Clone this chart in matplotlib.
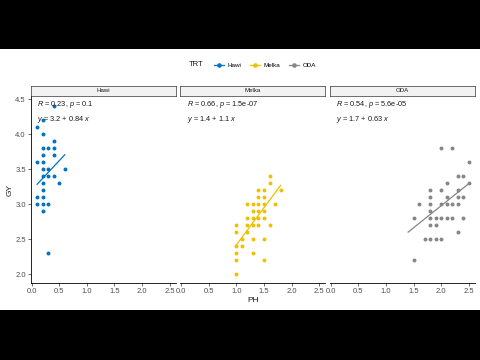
import numpy as np
import matplotlib
matplotlib.use('Agg')
from matplotlib import pyplot as plt
from matplotlib.lines import Line2D
from matplotlib.patches import Rectangle

plt.rcParams['font.family'] = ['Liberation Sans', 'DejaVu Sans']
plt.rcParams['mathtext.fontset'] = 'custom'
plt.rcParams['mathtext.rm'] = 'Liberation Sans'
plt.rcParams['mathtext.it'] = 'Liberation Sans:italic'

# data
groups = ['Hawi', 'Melka', 'ODA']
colors = ['#0073C2', '#EFC000', '#868686']

hawi_ph = [0.4, 0.2, 0.1, 0.2, 0.4, 0.2, 0.3, 0.4, 0.2, 0.4, 0.1, 0.2, 0.2, 0.3,
           0.6, 0.2, 0.3, 0.4, 0.2, 0.5, 0.2, 0.1, 0.2, 0.1, 0.2, 0.3, 0.2, 0.3]
hawi_gy = [4.4, 4.2, 4.1, 4.0, 3.9, 3.8, 3.8, 3.8, 3.7, 3.7, 3.6, 3.6, 3.5, 3.5,
           3.5, 3.4, 3.4, 3.4, 3.3, 3.3, 3.2, 3.1, 3.1, 3.0, 3.0, 3.0, 2.9, 2.3]

melka_ph = [1.6, 1.6, 1.4, 1.5, 1.8, 1.4, 1.5, 1.2, 1.3, 1.4, 1.5, 1.7, 1.3, 1.4,
            1.5, 1.2, 1.3, 1.4, 1.5, 1.0, 1.2, 1.3, 1.4, 1.6, 1.0, 1.2, 1.1, 1.3,
            1.5, 1.0, 1.1, 1.0, 1.3, 1.0, 1.5, 1.0]
melka_gy = [3.4, 3.3, 3.2, 3.2, 3.2, 3.1, 3.1, 3.0, 3.0, 3.0, 3.0, 3.0, 2.9, 2.9,
            2.9, 2.8, 2.8, 2.8, 2.8, 2.7, 2.7, 2.7, 2.7, 2.7, 2.6, 2.6, 2.5, 2.5,
            2.5, 2.4, 2.4, 2.3, 2.3, 2.2, 2.2, 2.0]

oda_ph = [2.0, 2.2, 2.5, 2.3, 2.4, 2.1, 2.5, 1.8, 2.0, 2.3, 1.8, 2.1, 2.3, 2.4,
          1.6, 1.8, 2.0, 2.1, 2.2, 2.3, 1.8, 1.5, 1.8, 1.9, 2.0, 2.1, 2.2, 2.4,
          1.8, 1.9, 2.3, 1.7, 1.8, 1.9, 2.0, 1.5]
oda_gy = [3.8, 3.8, 3.6, 3.4, 3.4, 3.3, 3.3, 3.2, 3.2, 3.2, 3.1, 3.1, 3.1, 3.1,
          3.0, 3.0, 3.0, 3.0, 3.0, 3.0, 2.9, 2.8, 2.8, 2.8, 2.8, 2.8, 2.8, 2.8,
          2.7, 2.7, 2.6, 2.5, 2.5, 2.5, 2.5, 2.2]

# fitted lines as seen in the picture
fit_intercept = [3.2, 1.36, 1.72]
fit_slope = [0.84, 1.06, 0.63]
fit_from = [0.1, 1.0, 1.4]
fit_to = [0.6, 1.8, 2.5]

stats_text = ['$R$ = 0.23, $p$ = 0.1',
              '$R$ = 0.66, $p$ = 1.5e-07',
              '$R$ = 0.54, $p$ = 5.6e-05']
eq_text = ['$y$ = 3.2 + 0.84 $x$',
           '$y$ = 1.4 + 1.1 $x$',
           '$y$ = 1.7 + 0.63 $x$']

x_ticks = [0.0, 0.5, 1.0, 1.5, 2.0, 2.5]
x_tick_labels = ['0.0', '0.5', '1.0', '1.5', '2.0', '2.5']
y_ticks = [2.0, 2.5, 3.0, 3.5, 4.0, 4.5]
y_tick_labels = ['2.0', '2.5', '3.0', '3.5', '4.0', '4.5']

W, H = 480, 360


def box(x0, y0, x1, y1):
    return [x0 / W, 1 - y1 / H, (x1 - x0) / W, (y1 - y0) / H]


fig = plt.figure(figsize=(4.8, 3.6), dpi=100, facecolor='black')
fig.add_artist(Rectangle((0, 1 - 310 / H), 1, (310 - 49) / H,
                         transform=fig.transFigure, facecolor='white',
                         edgecolor='none', zorder=-1))

data = [(hawi_ph, hawi_gy), (melka_ph, melka_gy), (oda_ph, oda_gy)]
lefts = [30.7, 180.3, 330.0]
pw = 145.0

for i, (ph, gy) in enumerate(data):
    l = lefts[i]
    ax = fig.add_axes(box(l, 96, l + pw, 283))
    ax.scatter(ph, gy, s=8, color=colors[i], linewidths=0, zorder=3)
    xs = np.array([fit_from[i], fit_to[i]])
    ax.plot(xs, fit_intercept[i] + fit_slope[i] * xs, color=colors[i],
            lw=0.9, zorder=2)
    ax.set_xlim(-0.016, 2.61)
    ax.set_ylim(1.876, 4.543)
    ax.set_xticks(x_ticks)
    ax.set_xticklabels(x_tick_labels)
    ax.set_yticks(y_ticks)
    ax.set_yticklabels(y_tick_labels)
    ax.tick_params(length=2, width=0.5, pad=1.5, labelsize=5.5,
                   labelcolor='#4D4D4D', color='#333333')
    for s in ['top', 'right']:
        ax.spines[s].set_visible(False)
    ax.spines['bottom'].set_linewidth(0.6)
    ax.spines['left'].set_linewidth(0.6)
    if i > 0:
        ax.spines['left'].set_visible(False)
        ax.tick_params(axis='y', left=False, labelleft=False)
    ax.text(0.043, 0.952, stats_text[i], transform=ax.transAxes,
            fontsize=5.3, va='center', ha='left', color='#1A1A1A')
    ax.text(0.043, 0.875, eq_text[i], transform=ax.transAxes,
            fontsize=5.3, va='center', ha='left', color='#1A1A1A')

    st = fig.add_axes(box(l, 85.7, l + pw, 96))
    st.set_facecolor('#F2F2F2')
    st.set_xticks([])
    st.set_yticks([])
    for s in st.spines.values():
        s.set_linewidth(0.5)
        s.set_color('#333333')
    st.text(0.5, 0.5, groups[i], ha='center', va='center', fontsize=4.4,
            color='#1A1A1A', transform=st.transAxes)

fig.text(10 / W, 1 - 190 / H, 'GY', rotation=90, ha='center', va='center',
         fontsize=6, color='#1A1A1A')
fig.text(252.7 / W, 1 - 300.7 / H, 'PH', ha='center', va='center',
         fontsize=6, color='#1A1A1A')

handles = [Line2D([], [], color=c, marker='o', markersize=2.3, lw=0.9)
           for c in colors]
fig.legend(handles, groups, loc='center', bbox_to_anchor=(265 / W, 1 - 65 / H),
           ncol=3, frameon=False, fontsize=4.5, handlelength=1.6,
           handletextpad=0.6, columnspacing=1.3, borderpad=0, borderaxespad=0)
fig.text(189 / W, 1 - 65 / H, 'TRT', fontsize=5.5, ha='left', va='center',
         color='#1A1A1A')

fig.savefig('out.png', dpi=100, facecolor='black')
